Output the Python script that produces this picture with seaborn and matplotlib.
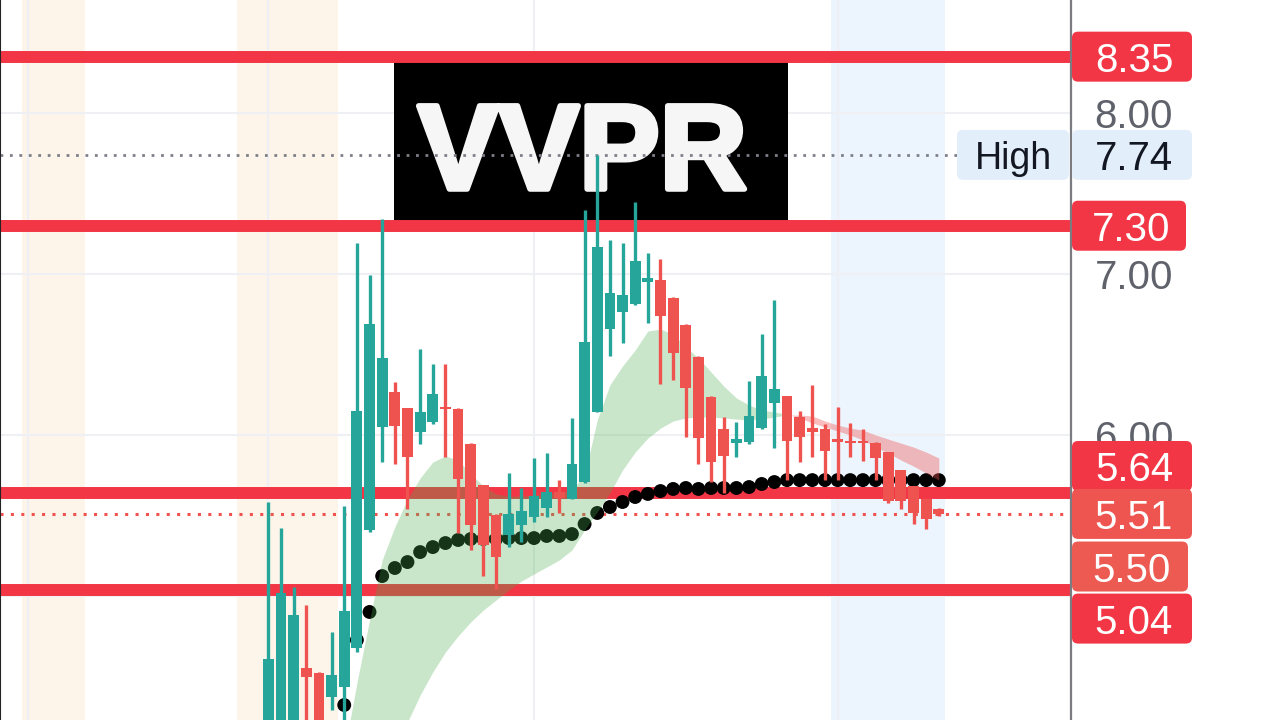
import numpy as np
import pandas as pd
import matplotlib
matplotlib.use("Agg")
import matplotlib.pyplot as plt
import matplotlib.patheffects as pe
import seaborn as sns
from matplotlib.patches import FancyBboxPatch, Rectangle

# ---------------- data ----------------
ticker = "VVPR"
opens = [4.05, 4.15, 4.20, 4.553, 4.522, 4.373, 4.435, 4.677, 5.410, 6.050,
         6.267, 6.168, 6.019, 6.081, 6.175, 6.161, 5.944, 5.689, 5.503, 5.379,
         5.441, 5.491, 5.547, 5.646, 5.602, 5.708, 6.143, 6.658, 6.764, 6.814,
         6.950, 6.963, 6.851, 6.683, 6.484, 6.236, 6.037, 5.950, 5.957, 6.043,
         6.199, 6.242, 6.112, 6.043, 6.037, 5.975, 5.963, 5.957, 5.950, 5.894,
         5.783, 5.683, 5.602, 5.540]
highs = [5.584, 5.422, 5.056, 4.944, 4.53, 4.776, 5.559, 7.193, 6.994, 7.342,
         6.329, 6.17, 6.534, 6.441, 6.441, 6.165, 5.95, 5.69, 5.51, 5.764,
         5.671, 5.857, 5.888, 5.720, 6.106, 7.398, 7.739, 7.211, 7.193, 7.447,
         7.130, 7.093, 6.855, 6.687, 6.488, 6.24, 6.112, 6.081, 6.335, 6.627,
         6.839, 6.245, 6.149, 6.311, 6.068, 6.174, 6.075, 6.037, 5.955, 5.895,
         5.785, 5.685, 5.605, 5.545]
lows = [4.00, 4.10, 4.15, 4.15, 4.10, 4.292, 4.20, 4.65, 5.40, 5.832,
        5.820, 5.540, 5.944, 6.07, 5.863, 5.391, 5.286, 5.124, 5.043, 5.304,
        5.335, 5.460, 5.491, 5.516, 5.60, 5.70, 6.14, 6.491, 6.571, 6.81,
        6.696, 6.317, 6.342, 5.988, 5.820, 5.708, 5.640, 5.863, 5.944, 6.04,
        5.919, 5.720, 5.832, 5.863, 5.720, 5.720, 5.863, 5.839, 5.720, 5.58,
        5.540, 5.447, 5.416, 5.50]
closes = [4.609, 5.019, 4.882, 4.497, 4.15, 4.509, 4.907, 6.149, 6.689, 6.478,
          6.056, 5.863, 6.143, 6.255, 6.160, 5.727, 5.441, 5.317, 5.242, 5.509,
          5.528, 5.621, 5.646, 5.609, 5.820, 6.578, 7.168, 6.882, 6.870, 7.081,
          6.975, 6.739, 6.509, 6.292, 5.981, 5.832, 5.870, 5.975, 6.118, 6.366,
          6.286, 5.963, 5.988, 6.019, 5.901, 5.957, 5.950, 5.950, 5.857, 5.590,
          5.590, 5.516, 5.478, 5.51]

indicator_start = 6
vwap = [4.323, 4.727, 4.901, 5.124, 5.174, 5.211, 5.273, 5.304, 5.329, 5.348,
        5.354, 5.354, 5.354, 5.360, 5.360, 5.360, 5.373, 5.373, 5.385, 5.447,
        5.516, 5.553, 5.584, 5.615, 5.634, 5.652, 5.665, 5.671, 5.665, 5.671,
        5.671, 5.671, 5.677, 5.696, 5.708, 5.720, 5.720, 5.720, 5.720, 5.720,
        5.720, 5.720, 5.720, 5.720, 5.720, 5.720, 5.720, 5.720]
fast_band = [4.031, 4.460, 4.851, 5.224, 5.429, 5.602, 5.733, 5.832, 5.870, 5.845,
             5.758, 5.683, 5.634, 5.621, 5.621, 5.627, 5.634, 5.640, 5.658, 5.752,
             6.093, 6.311, 6.429, 6.528, 6.646, 6.658, 6.627, 6.547, 6.478, 6.391,
             6.304, 6.230, 6.186, 6.155, 6.143, 6.130, 6.106, 6.075, 6.050, 6.025,
             6.000, 5.969, 5.925, 5.888, 5.845, 5.807, 5.764, 5.720]
slow_band = [3.236, 3.484, 3.733, 3.919, 4.075, 4.217, 4.385, 4.528, 4.652, 4.752,
             4.839, 4.913, 4.975, 5.037, 5.093, 5.137, 5.180, 5.224, 5.286, 5.410,
             5.522, 5.640, 5.783, 5.894, 5.981, 6.043, 6.087, 6.106, 6.112, 6.112,
             6.106, 6.099, 6.093, 6.099, 6.112, 6.124, 6.124, 6.118, 6.087, 6.062,
             6.043, 6.031, 6.000, 5.975, 5.950, 5.925, 5.894, 5.857]

level_lines = [8.35, 7.30, 5.64, 5.04]
session_high = 7.74
last_price = 5.51
prev_price = 5.50
y_ticks = [8.00, 7.00, 6.00]
y_grid = [8.00, 7.00, 6.00, 5.00]
x_grid = [-19, 0, 21, 45]
premarket_spans = [(-19.5, -14.5), (-2.5, 5.5)]
postmarket_spans = [(44.5, 53.5)]

# ---------------- frame ----------------
df = pd.DataFrame({"o": opens, "h": highs, "l": lows, "c": closes})
df["i"] = np.arange(len(df))
ind = pd.DataFrame({"i": np.arange(indicator_start, indicator_start + len(vwap)),
                    "vwap": vwap, "fast": fast_band, "slow": slow_band})

TEAL = "#26a69a"
RED = "#ef5350"
LEVEL = "#f23645"

sns.set_theme(style="white")
plt.rcParams["font.family"] = ["Liberation Sans", "DejaVu Sans"]

W, H = 1280, 720
fig = plt.figure(figsize=(12.8, 7.2), dpi=100)
fig.patch.set_facecolor("white")
AXW = 1071
ax = fig.add_axes([0, 0, AXW / W, 1])
XMIN, XMAX = -21.21, 63.45
YMIN, YMAX = 4.230, 8.702
ax.set_xlim(XMIN, XMAX)
ax.set_ylim(YMIN, YMAX)
ax.set_xticks([])
ax.set_yticks([])
ax.set_facecolor("white")
for s in ["top", "bottom"]:
    ax.spines[s].set_visible(False)
ax.spines["left"].set_color("#222222")
ax.spines["left"].set_linewidth(1.5)
ax.spines["right"].set_color("#7b7b82")
ax.spines["right"].set_linewidth(1.6)
ax.spines["right"].set_zorder(20)

# session shading
for a, b in premarket_spans:
    ax.axvspan(a, b, color="#fdf5ea", lw=0, zorder=0)
for a, b in postmarket_spans:
    ax.axvspan(a, b, color="#ecf4fd", lw=0, zorder=0)

# grid
for g in y_grid:
    ax.axhline(g, color="#eef0f4", lw=1.5, zorder=0.5)
for g in x_grid:
    ax.axvline(g, color="#eef0f4", lw=1.5, zorder=0.5)

# title box
ax.add_patch(Rectangle((394 / AXW, 1 - 221 / H), (788 - 394) / AXW, (221 - 62) / H,
                       transform=ax.transAxes, facecolor="black", edgecolor="none", zorder=0.8))
ax.text(582.5 / AXW, 1 - 189 / H, ticker, transform=ax.transAxes, ha="center", va="baseline",
        fontsize=87, fontweight="bold", color="#f6f6f6", zorder=0.85,
        path_effects=[pe.withStroke(linewidth=4, foreground="#f6f6f6")])

# level lines
for v in level_lines:
    ax.axhline(v, color=LEVEL, lw=8.6, zorder=1)

# dotted lines
ax.axhline(session_high, xmax=957 / AXW, color="#7d8088", lw=2.0, dashes=(1, 2.4), zorder=2.5)
ax.axhline(last_price, color=RED, lw=2.2, dashes=(1, 2.4), zorder=1.2)

# vwap dots (under the cloud)
sns.scatterplot(data=ind, x="i", y="vwap", color="black", s=100, edgecolor="none",
                zorder=2, ax=ax, legend=False)

# cloud
fa = ind["fast"].to_numpy()
sl = ind["slow"].to_numpy()
ax.fill_between(ind["i"], fa, sl, where=fa >= sl, interpolate=True,
                color="#4caf50", alpha=0.30, lw=0, zorder=3)
ax.fill_between(ind["i"], fa, sl, where=fa < sl, interpolate=True,
                color=RED, alpha=0.38, lw=0, zorder=3)

# candles
up = df["c"] >= df["o"]
cols = np.where(up, TEAL, RED)
ax.vlines(df["i"], df["l"], df["h"], colors=cols, lw=2.4, zorder=4)
body_lo = np.minimum(df["o"], df["c"])
body_h = np.maximum(np.abs(df["c"] - df["o"]), 0.016)
ax.bar(df["i"], body_h, bottom=body_lo, width=0.85, color=cols, lw=0, zorder=5)
ax.set_xlim(XMIN, XMAX)
ax.set_ylim(YMIN, YMAX)
ax.set_xlabel("")
ax.set_ylabel("")

# ---------------- price scale overlay ----------------
ov = fig.add_axes([0, 0, 1, 1], zorder=10)
ov.set_xlim(0, W)
ov.set_ylim(YMIN, YMAX)
ov.axis("off")
ov.patch.set_alpha(0)
ppv = H / (YMAX - YMIN)  # pixels per price unit

for t in y_ticks:
    ov.text(1134, t, f"{t:.2f}", ha="center", va="center_baseline", fontsize=29,
            color="#5f626b", zorder=1)

label_values = [8.35, session_high, 7.30, 5.64, last_price, prev_price, 5.04]
label_shift_px = [0, 0, 0, -27, 0, 51, 29]
label_right = [1192, 1192, 1186, 1192, 1192, 1188, 1192]
label_bg = [LEVEL, "#e3eefb", LEVEL, LEVEL, "#ee5550", "#ec5a52", LEVEL]
label_fg = ["white", "#131722", "white", "white", "white", "white", "white"]
BOX_H = 50 / ppv


def box(x0, x1, yc, fc, z=2):
    ov.add_patch(FancyBboxPatch((x0, yc - BOX_H / 2), x1 - x0, BOX_H,
                                boxstyle="round,pad=0,rounding_size=6",
                                mutation_aspect=1 / ppv, facecolor=fc, edgecolor="none",
                                zorder=z))


for v, sh, xr, bg, fg in zip(label_values, label_shift_px, label_right, label_bg, label_fg):
    yc = v - sh / ppv
    box(1072, xr, yc, bg)
    ov.text((1072 + xr) / 2 + 2, yc, f"{v:.2f}", ha="center", va="center_baseline",
            fontsize=29, color=fg, zorder=3)

# "High" tag
box(957, 1069, session_high, "#e3eefb")
ov.text(1013, session_high, "High", ha="center", va="center_baseline", fontsize=27,
        color="#131722", zorder=3)

fig.savefig("out.png", dpi=100)
